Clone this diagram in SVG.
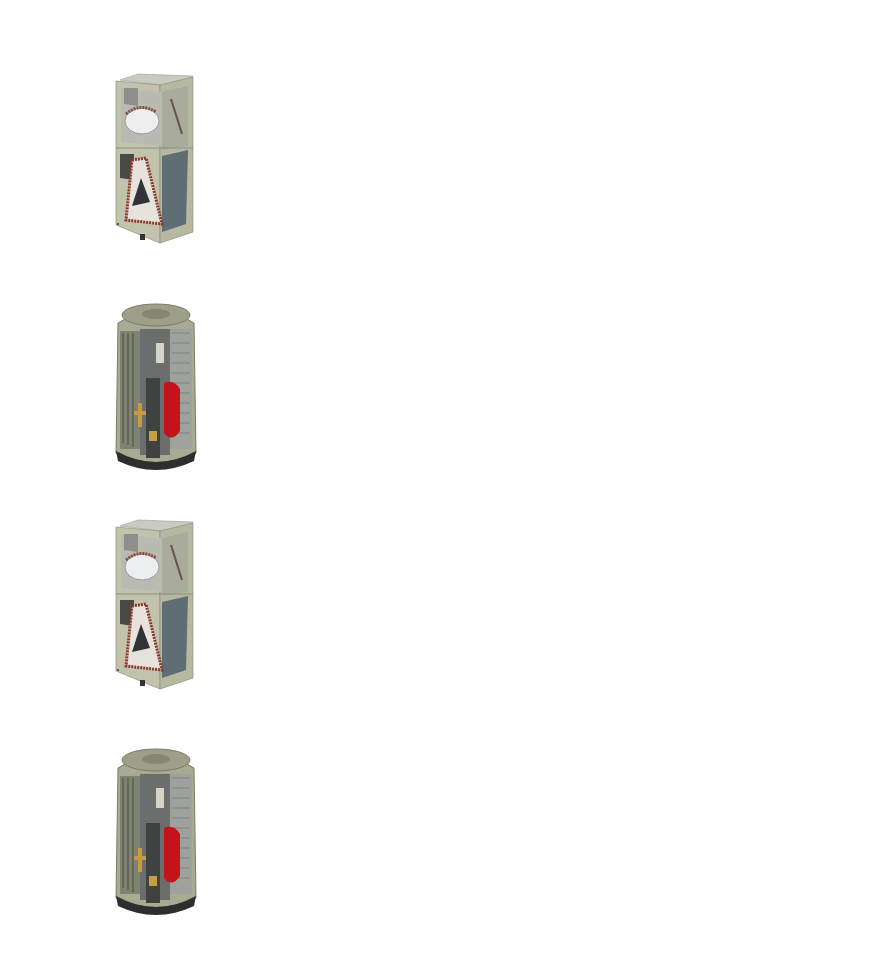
<svg xmlns="http://www.w3.org/2000/svg" width="880" height="955" viewBox="0 0 880 955">
<defs>
<g id="ah">
<polygon points="4,6 22,0 77,2 70,9 44,11" fill="#c9cbc3" stroke="#9a9c92" stroke-width="0.6"/>
<polygon points="0,7 44,11 44,169 0,151" fill="#c3c3ad" stroke="#8e8f7c" stroke-width="0.7"/>
<polygon points="44,11 77,3 77,158 44,169" fill="#b7b8a2" stroke="#8e8f7c" stroke-width="0.7"/>
<polygon points="5,14 46,18 46,72 5,68" fill="#b9bbb3"/>
<polygon points="8,14 22,14 22,32 8,30" fill="#8d8f8c"/>
<ellipse cx="26" cy="47" rx="17" ry="13" fill="#eceef0" stroke="#9b9a9a"/>
<path d="M10,40 Q24,28 40,38" fill="none" stroke="#8a4a3a" stroke-width="3" stroke-dasharray="2,1"/>
<polygon points="46,18 72,12 72,72 46,76" fill="#a9ab9c"/>
<path d="M55,25 L66,60" stroke="#6b5050" stroke-width="2"/>
<line x1="0" y1="74" x2="77" y2="74" stroke="#8e8f7c"/>
<polygon points="46,82 72,76 70,150 46,158" fill="#5f6e74"/>
<polygon points="4,80 18,80 18,106 4,104" fill="#2a2a2a" opacity="0.8"/>
<polygon points="16,86 30,84 46,150 10,146" fill="#e8e2dc" stroke="#8a3a2a" stroke-width="3" stroke-dasharray="2,1"/>
<polygon points="25,104 34,128 16,132" fill="#303438"/>
<circle cx="2" cy="150" r="1" fill="#333"/>
<rect x="24" y="160" width="5" height="6" fill="#333"/>
</g>
<g id="cd">
<path d="M2,20 Q40,-4 78,20 L80,150 Q40,172 0,150 Z" fill="#a8aa92" stroke="#7a7c68"/>
<ellipse cx="40" cy="12" rx="34" ry="11" fill="#9d9f88" stroke="#7a7c68"/>
<ellipse cx="40" cy="11" rx="14" ry="5" fill="#84866f"/>
<path d="M0,148 Q40,170 80,148 L78,158 Q40,176 2,158 Z" fill="#2d2f2e"/>
<rect x="4" y="28" width="20" height="118" fill="#7e8272"/>
<g stroke="#5c5f52" stroke-width="1.5">
<line x1="7" y1="30" x2="7" y2="140"/><line x1="12" y1="30" x2="12" y2="142"/><line x1="17" y1="30" x2="17" y2="144"/>
</g>
<rect x="24" y="26" width="30" height="126" fill="#6a6e6c"/>
<rect x="54" y="26" width="22" height="120" fill="#9ea19c"/>
<g stroke="#7e827e" stroke-width="1">
<line x1="56" y1="30" x2="74" y2="30"/><line x1="56" y1="40" x2="74" y2="40"/><line x1="56" y1="50" x2="74" y2="50"/><line x1="56" y1="60" x2="74" y2="60"/><line x1="56" y1="70" x2="74" y2="70"/><line x1="56" y1="80" x2="74" y2="80"/><line x1="56" y1="90" x2="74" y2="90"/><line x1="56" y1="100" x2="74" y2="100"/><line x1="56" y1="110" x2="74" y2="110"/><line x1="56" y1="120" x2="74" y2="120"/><line x1="56" y1="130" x2="74" y2="130"/>
</g>
<rect x="40" y="40" width="8" height="20" fill="#d8d4c8"/>
<rect x="30" y="75" width="14" height="80" fill="#3e4240"/>
<path d="M48,80 Q58,76 64,86 L64,128 Q56,140 48,130 Z" fill="#c2141a"/>
<rect x="18" y="108" width="12" height="4" fill="#c89a40"/>
<rect x="22" y="100" width="4" height="24" fill="#c89a40"/>
<rect x="33" y="128" width="8" height="10" fill="#c8a040"/>
</g>
</defs>
<rect width="880" height="955" fill="#ffffff"/>
<use href="#ah" x="116" y="74"/>
<use href="#cd" x="116" y="303"/>
<use href="#ah" x="116" y="520"/>
<use href="#cd" x="116" y="748"/>
</svg>
